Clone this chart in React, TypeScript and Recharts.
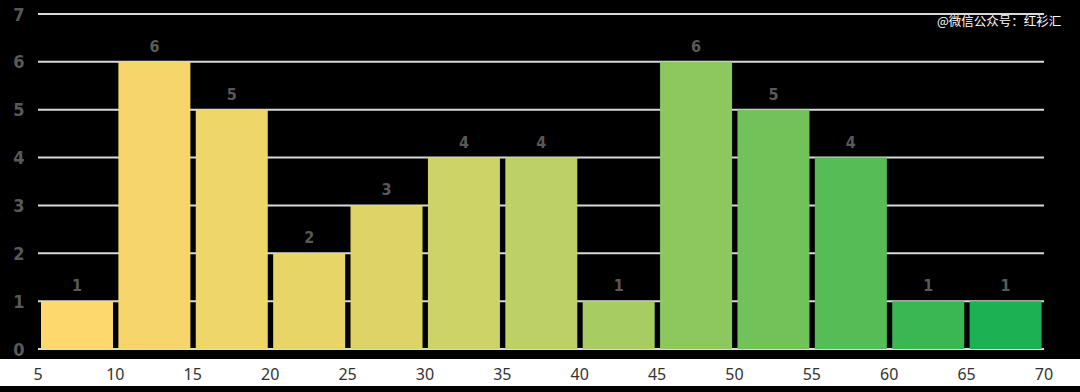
import { BarChart, Bar, XAxis, YAxis, CartesianGrid, Cell, LabelList } from "recharts";

// histogram bins: start of each 5-wide bin, and its count
const binStarts = [5, 10, 15, 20, 25, 30, 35, 40, 45, 50, 55, 60, 65];
const counts = [1, 6, 5, 2, 3, 4, 4, 1, 6, 5, 4, 1, 1];
const binColors = [
  "#FDD96D", "#F6D66A", "#EED668", "#E7D667", "#DCD466", "#CED367", "#BCD065",
  "#A6CC62", "#8DC85E", "#72C25A", "#55BC56", "#3AB653", "#1AB252",
];
const xTicks = [5, 10, 15, 20, 25, 30, 35, 40, 45, 50, 55, 60, 65, 70];
const yTicks = [0, 1, 2, 3, 4, 5, 6, 7];

const data = binStarts.map((s, i) => ({ mid: s + 2.5, count: counts[i] }));

const condensed = "'DejaVu Sans Condensed', 'DejaVu Sans', sans-serif";

const YTick = (props: any) => {
  const { y, payload } = props;
  return (
    <text x={19} y={y} textAnchor="middle" dominantBaseline="central"
      fontSize={18} fontWeight="bold" fill="#595959" fontFamily={condensed}>
      {payload.value}
    </text>
  );
};

const XTick = (props: any) => {
  const { x, payload } = props;
  return (
    <text x={x} y={374} textAnchor="middle" dominantBaseline="central"
      fontSize={16} fill="#333333" fontFamily="'Noto Sans', sans-serif">
      {payload.value}
    </text>
  );
};

export default function App() {
  return (
    <div style={{ position: "absolute", left: 0, top: 0, width: 1080, height: 392, background: "#000" }}>
      <div style={{ position: "absolute", left: 0, top: 359, width: 1080, height: 27, background: "#fff" }} />
      <BarChart
        width={1080}
        height={392}
        data={data}
        margin={{ top: 14, right: 36, left: 0, bottom: 0 }}
        style={{ position: "absolute", left: 0, top: 0 }}
      >
        <CartesianGrid vertical={false} stroke="#d9d9d9" strokeWidth={2} />
        <XAxis
          dataKey="mid"
          type="number"
          domain={[5, 70]}
          ticks={xTicks}
          interval={0}
          axisLine={false}
          tickLine={false}
          height={43}
          tick={<XTick />}
        />
        <YAxis
          domain={[0, 7]}
          ticks={yTicks}
          interval={0}
          axisLine={false}
          tickLine={false}
          width={38}
          tick={<YTick />}
        />
        <Bar dataKey="count" barSize={72} isAnimationActive={false}>
          {data.map((_, i) => (
            <Cell key={i} fill={binColors[i]} />
          ))}
          <LabelList
            dataKey="count"
            position="top"
            offset={10}
            fill="#595959"
            fontSize={16}
            fontWeight="bold"
            fontFamily={condensed}
          />
        </Bar>
      </BarChart>
      <div style={{ position: "absolute", left: 937, top: 11, fontSize: 12.5, color: "#fff", fontFamily: "'Noto Sans CJK SC', sans-serif", whiteSpace: "nowrap" }}>
        @微信公众号：红衫汇
      </div>
    </div>
  );
}
